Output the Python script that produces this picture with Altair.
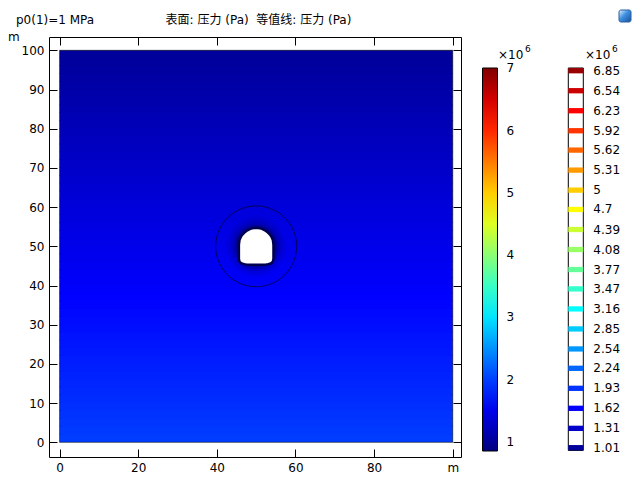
import altair as alt
import numpy as np
import pandas as pd

FONT = "DejaVu Sans"
CJK = "DejaVu Sans, Noto Sans CJK SC"

# ---------------- data ----------------
# pressure surface (x10^6 Pa), horizontal bands of 2 m (bottom -> top)
ROW_Y0 = list(range(0, 100, 2))
ROW_H = 2
ROW_P = [1.99, 1.97, 1.95, 1.93, 1.91, 1.89, 1.87, 1.85, 1.83, 1.81,
         1.79, 1.77, 1.75, 1.73, 1.71, 1.69, 1.67, 1.65, 1.63, 1.61,
         1.59, 1.57, 1.55, 1.53, 1.51, 1.49, 1.47, 1.45, 1.43, 1.41,
         1.39, 1.37, 1.35, 1.33, 1.31, 1.29, 1.27, 1.25, 1.23, 1.21,
         1.19, 1.17, 1.15, 1.13, 1.11, 1.09, 1.07, 1.05, 1.03, 1.01]

# tunnel opening (m): x, roof and floor
HOLE_X = [45.6, 45.75, 46.1, 46.5, 47.0, 47.5, 48.0, 48.5, 49.0, 49.5, 50.0,
          50.5, 51.0, 51.5, 52.0, 52.5, 53.0, 53.5, 53.9, 54.25, 54.4]
HOLE_TOP = [50.4, 51.6, 52.4, 53.0, 53.5, 53.9, 54.2, 54.45, 54.6, 54.68, 54.7,
            54.68, 54.6, 54.45, 54.2, 53.9, 53.5, 53.0, 52.4, 51.6, 50.4]
HOLE_BOT = [46.8, 46.1, 45.75, 45.55, 45.42, 45.36, 45.32, 45.3, 45.28, 45.27, 45.27,
            45.27, 45.28, 45.3, 45.32, 45.36, 45.42, 45.55, 45.75, 46.1, 46.8]

# circular boundary around the tunnel, and the darker zone next to it (m)
CIRCLE_C = (50.0, 50.0)
CIRCLE_R = 10.3
HALO_R = 8.0

# colour map (jet) of the surface, x10^6 Pa
CMAP_P = [0.855, 1.624, 3.161, 4.699, 6.236, 7.005]
CMAP_C = ["#000080", "#0000ff", "#00ffff", "#ffff00", "#ff0000", "#800000"]
CBAR_TICKS = [1, 2, 3, 4, 5, 6, 7]

# contour levels (x10^6 Pa)
LEVELS = [6.85, 6.54, 6.23, 5.92, 5.62, 5.31, 5.0, 4.7, 4.39, 4.08,
          3.77, 3.47, 3.16, 2.85, 2.54, 2.24, 1.93, 1.62, 1.31, 1.01]
LEVEL_LABELS = ["6.85", "6.54", "6.23", "5.92", "5.62", "5.31", "5", "4.7", "4.39", "4.08",
                "3.77", "3.47", "3.16", "2.85", "2.54", "2.24", "1.93", "1.62", "1.31", "1.01"]

X_TICKS = [0, 20, 40, 60, 80, 100]
Y_TICKS = [0, 10, 20, 30, 40, 50, 60, 70, 80, 90, 100]

# ---------------- tables ----------------
field = pd.DataFrame({
    "x0": 0, "x1": 100,
    "y0": ROW_Y0,
    "y1": [min(y + ROW_H + 0.2, 100) for y in ROW_Y0],
    "p": ROW_P,
})
hole = pd.DataFrame({"hx": HOLE_X, "ht": HOLE_TOP, "hb": HOLE_BOT})

th = np.linspace(0, 2 * np.pi, 241)
circle = pd.DataFrame({"cx": CIRCLE_C[0] + CIRCLE_R * np.cos(th),
                       "cy": CIRCLE_C[1] + CIRCLE_R * np.sin(th),
                       "i": np.arange(len(th))})
ph = np.linspace(np.pi, 0, 121)
halo = pd.DataFrame({"dx": CIRCLE_C[0] + HALO_R * np.cos(ph),
                     "dt": CIRCLE_C[1] + HALO_R * np.sin(ph),
                     "db": CIRCLE_C[1] - HALO_R * np.sin(ph)})
levels = pd.DataFrame({"p": LEVELS, "label": LEVEL_LABELS})
cbt = pd.DataFrame({"v": CBAR_TICKS[1:-1]})
outline = pd.DataFrame({"x0": [0], "x1": [100], "y0": [0], "y1": [100]})

# ---------------- scales / axes ----------------
xs = alt.Scale(domain=[-2.7, 102.1], nice=False, zero=False)
ys = alt.Scale(domain=[-3.75, 103.4], nice=False, zero=False)
cs = alt.Scale(domain=CMAP_P, range=CMAP_C, interpolate="rgb")
cbar_s = alt.Scale(domain=[CMAP_P[0], CMAP_P[-1]], range=[413.7, 31], nice=False, zero=False)
lev_s = alt.Scale(domain=[1.01, 6.85], range=[410.7, 33.7], nice=False, zero=False)

leg = alt.Legend(orient="none", legendX=433.5, legendY=31, direction="vertical", title=None,
                 gradientLength=383, gradientThickness=15, gradientStrokeColor="black",
                 gradientStrokeWidth=1, values=CBAR_TICKS, labelFont=FONT, labelFontSize=12,
                 labelColor="black", labelOffset=9, labelOverlap=False, padding=0)


def axis(orient, values, labels=True, expr=None):
    kw = dict(orient=orient, values=values, labels=labels, title=None, grid=False,
              domain=False, ticks=True, tickSize=8, tickColor="black", tickWidth=1,
              offset=-8, labelFont=FONT, labelFontSize=12, labelColor="black",
              labelPadding=5, labelFlush=False)
    if expr:
        kw["labelExpr"] = expr
    return alt.Axis(**kw)


def text(t, x, y, align="left", font=FONT, size=12):
    return alt.Chart(pd.DataFrame({"t": [t]})).mark_text(
        align=align, baseline="middle", font=font, fontSize=size, color="black"
    ).encode(text="t:N", x=alt.value(x), y=alt.value(y))


# ---------------- layers ----------------
surface = alt.Chart(field).mark_rect(opacity=1).encode(
    x=alt.X("x0:Q", scale=xs, axis=axis("bottom", X_TICKS, expr="datum.value == 100 ? 'm' : datum.label")),
    x2="x1:Q",
    y=alt.Y("y0:Q", scale=ys, axis=axis("left", Y_TICKS)),
    y2="y1:Q",
    color=alt.Color("p:Q", scale=cs, legend=leg),
)

halo_grad = alt.RadialGradient(gradient="radial", stops=[
    alt.GradientStop(offset=0, color="rgba(0,0,80,0.95)"),
    alt.GradientStop(offset=0.55, color="rgba(0,0,80,0.9)"),
    alt.GradientStop(offset=0.72, color="rgba(0,0,120,0.4)"),
    alt.GradientStop(offset=1, color="rgba(0,0,160,0)"),
])
halo_l = alt.Chart(halo).mark_area(orient="vertical", fill=halo_grad).encode(
    x=alt.X("dx:Q", scale=xs, axis=None),
    y=alt.Y("dt:Q", scale=ys, axis=None),
    y2="db:Q",
)

circle_l = alt.Chart(circle).mark_line(color="#00003c", strokeWidth=1, opacity=0.85).encode(
    x=alt.X("cx:Q", scale=xs, axis=None),
    y=alt.Y("cy:Q", scale=ys, axis=None),
    order="i:Q",
)

hole_l = alt.Chart(hole).mark_area(orient="vertical", fill="white", stroke="#000050",
                                   strokeWidth=2.5, strokeJoin="round", opacity=1).encode(
    x=alt.X("hx:Q", scale=xs, axis=None),
    y=alt.Y("ht:Q", scale=ys, axis=None),
    y2="hb:Q",
)

outline_l = alt.Chart(outline).mark_rect(filled=False, stroke="black", strokeWidth=0.8, opacity=0.7).encode(
    x=alt.X("x0:Q", scale=xs, axis=axis("top", X_TICKS, labels=False)),
    x2="x1:Q",
    y=alt.Y("y0:Q", scale=ys, axis=axis("right", Y_TICKS, labels=False)),
    y2="y1:Q",
)

cb_ticks_l = alt.Chart(cbt).mark_rule(color="black", strokeWidth=1).encode(
    x=alt.value(433.5), x2=alt.value(437.5),
    y=alt.Y("v:Q", scale=cbar_s, axis=None),
)
cb_ticks_r = alt.Chart(cbt).mark_rule(color="black", strokeWidth=1).encode(
    x=alt.value(444.5), x2=alt.value(448.5),
    y=alt.Y("v:Q", scale=cbar_s, axis=None),
)

box = alt.Chart(pd.DataFrame({"a": [0]})).mark_rect(fill="white", stroke="black", strokeWidth=1).encode(
    x=alt.value(519.3), x2=alt.value(534.3), y=alt.value(31), y2=alt.value(413.4),
)
bands = alt.Chart(levels).mark_tick(orient="horizontal", size=15, thickness=5.3, opacity=1).encode(
    x=alt.value(526.8),
    y=alt.Y("p:Q", scale=lev_s, axis=None),
    color=alt.Color("p:Q", scale=cs, legend=leg),
)
band_labels = alt.Chart(levels).mark_text(align="left", baseline="middle", font=FONT,
                                          fontSize=12, color="black").encode(
    x=alt.value(544.3),
    y=alt.Y("p:Q", scale=lev_s, axis=None),
    text="label:N",
)

icon = alt.Chart(pd.DataFrame({"a": [0]})).mark_rect(
    cornerRadius=2, stroke="#2b5f9e", strokeWidth=1,
    fill=alt.LinearGradient(gradient="linear", x1=0, y1=0, x2=1, y2=1, stops=[
        alt.GradientStop(offset=0, color="#e8f4ff"),
        alt.GradientStop(offset=0.45, color="#3d8fe0"),
        alt.GradientStop(offset=1, color="#1a4f9a")]),
).encode(x=alt.value(570), x2=alt.value(582), y=alt.value(-27), y2=alt.value(-15))

layers = [
    surface, halo_l, circle_l, hole_l, outline_l,
    cb_ticks_l, cb_ticks_r, box, bands, band_labels, icon,
    text("p0(1)=1 MPa", -33, -17),
    text("表面: 压力 (Pa)\u00a0\u00a0等值线: 压力 (Pa)", 209.5, -17, align="center", font=CJK),
    text("m", -41, 0),
    text("×10", 449, 18),
    text("6", 476, 12, size=9),
    text("×10", 536, 18),
    text("6", 563, 12, size=9),
]

chart = alt.layer(*layers).resolve_scale(y="independent").resolve_axis(
    x="independent", y="independent"
).properties(
    width=412, height=420,
    autosize=alt.AutoSizeParams(type="none"),
    padding={"left": 41, "top": 29, "right": 171, "bottom": 22},
).configure_view(stroke="black", strokeWidth=1)

chart.save("out.html", embed_options={"renderer": "svg", "actions": False})
